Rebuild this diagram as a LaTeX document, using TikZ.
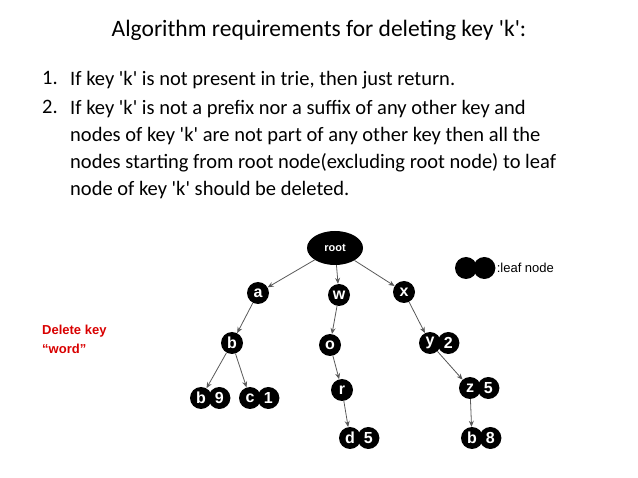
\documentclass[tikz,border=0pt]{standalone}
\usepackage{fontspec}
\setmainfont{Carlito}
\newfontfamily\arialfont{Liberation Sans}
\usetikzlibrary{shapes.geometric,positioning,arrows.meta}
\newcommand{\q}{\textquotesingle}
\begin{document}
\begin{tikzpicture}[x=1pt,y=-1pt,
	every node/.style={inner sep=0pt},
	rule/.style={anchor=north west,align=left,font=\fontsize{20.5}{27}\selectfont},
	trie/.style={circle,fill=black,minimum size=22pt,text=white,font=\arialfont\bfseries\fontsize{16}{16}\selectfont},
	tail/.style={trie,right=-4pt of #1},
	link/.style={-{Stealth[length=6pt,width=5pt]},draw=black!65,line width=0.8pt}
	]
  \useasboundingbox (0,0) rectangle (638,478);
  % heading and rules
  \node (title) at (319,30) {\fontsize{23.5}{28}\selectfont Algorithm requirements for deleting key \q k\q:};
  \node[rule] (n1) at (42,71) {1.};
  \node[rule] (r1) at (70,71) {If key \q k\q\ is not present in trie, then just return.};
  \node[rule] (n2) at (42,100) {2.};
  \node[rule] (r2) at (70,100) {If key \q k\q\ is not a prefix nor a suffix of any other key and\\nodes of key \q k\q\ are not part of any other key then all the\\nodes starting from root node(excluding root node) to leaf\\node of key \q k\q\ should be deleted.};
  \node[anchor=north west,align=left,text=red!85!black,font=\arialfont\bfseries\fontsize{13}{19}\selectfont] (note) at (42,325) {Delete key\\“word”};
  % the trie
  \node[ellipse,fill=black,minimum width=56pt,minimum height=34pt,text=white,font=\arialfont\bfseries\fontsize{11}{11}\selectfont] (root) at (335,248) {root};
  \node[trie] (a) at (258,293) {a};
  \node[trie] (w) at (339,295) {w};
  \node[trie] (x) at (404,292) {x};
  \node[trie] (b) at (232,343) {b};
  \node[trie] (o) at (330,345) {o};
  \node[trie] (y) at (430,343) {y};
  \node[tail=y] (y2) {2};
  \node[trie] (r) at (342,390) {r};
  \node[trie] (z) at (470,388) {z};
  \node[tail=z] (z5) {5};
  \node[trie] (bb) at (201,398) {b};
  \node[tail=bb] (bb9) {9};
  \node[trie] (c) at (250,398) {c};
  \node[tail=c] (c1) {1};
  \node[trie] (d) at (350,438) {d};
  \node[tail=d] (d5) {5};
  \node[trie] (bz) at (472,438) {b};
  \node[tail=bz] (bz8) {8};
  % legend
  \node[trie] (leg) at (466,268) {};
  \node[tail=leg] (leg2) {};
  \node[anchor=west,font=\arialfont\fontsize{13}{13}\selectfont] (legtext) at ([xshift=1pt]leg2.east) {:leaf node};
  % links
  \draw[link] (root) -- (a);
  \draw[link] (root) -- (w);
  \draw[link] (root) -- (x);
  \draw[link] (a) -- (b);
  \draw[link] (b) -- (bb);
  \draw[link] (b) -- (c);
  \draw[link] (w) -- (o);
  \draw[link] (o) -- (r);
  \draw[link] (r) -- (d);
  \draw[link] (x) -- (y);
  \draw[link] (y) -- (z);
  \draw[link] (z) -- (bz);
\end{tikzpicture}
\end{document}
